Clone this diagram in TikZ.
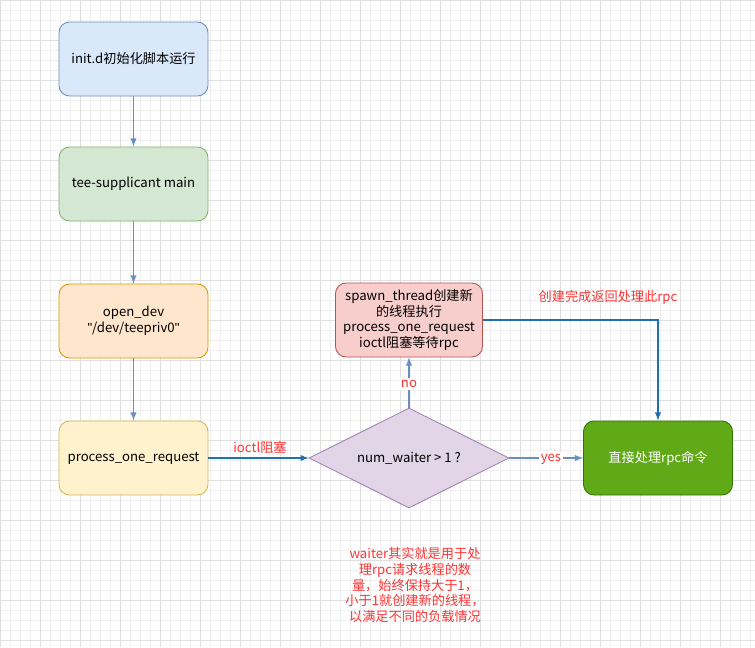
\documentclass[tikz,border=0pt]{standalone}
\usepackage{fontspec}
\setmainfont{Noto Sans CJK SC}
\newfontfamily\latinq{Liberation Sans}
\usetikzlibrary{shapes.geometric,positioning}
\definecolor{blueF}{HTML}{DAE8FC}\definecolor{blueD}{HTML}{6C8EBF}
\definecolor{greenF}{HTML}{D5E8D4}\definecolor{greenD}{HTML}{82B366}
\definecolor{orangeF}{HTML}{FFE6CC}\definecolor{orangeD}{HTML}{D79B00}
\definecolor{yellowF}{HTML}{FFF2CC}\definecolor{yellowD}{HTML}{D6B656}
\definecolor{purpleF}{HTML}{E1D5E7}\definecolor{purpleD}{HTML}{9673A6}
\definecolor{redF}{HTML}{F8CECC}\definecolor{redD}{HTML}{B85450}
\definecolor{limeF}{HTML}{60A917}\definecolor{limeD}{HTML}{2D7600}
\definecolor{linkB}{HTML}{1F6FB2}\definecolor{noteR}{HTML}{FF3333}
\tikzset{
  box/.style={draw, rounded corners=6pt, minimum width=2.98cm, minimum height=1.48cm,
    align=center, font=\fontsize{7.5}{9}\selectfont, line width=0.5pt},
  flow/.style={-latex, draw=blueD, line width=0.6pt},
  note/.style={text=noteR, font=\fontsize{7.5}{9}\selectfont, align=center}
}
\begin{document}
\begin{tikzpicture}[x=0.02cm,y=-0.02cm]
  \useasboundingbox (0,0) rectangle (755,647);
  \fill[white] (0,0) rectangle (755,647);
  % grid
  \draw[black!6, line width=0.3pt, step=0.2cm] (0,0) grid (755,647);
  \draw[black!12, line width=0.3pt, step=0.8cm] (0,0) grid (755,647);

  % Define nodes
  \node[box, fill=blueF, draw=blueD]     (init) at (133.5,59)  {init.d初始化脚本运行};
  \node[box, fill=greenF, draw=greenD]   (tee)  at (133.5,184) {tee-supplicant main};
  \node[box, fill=orangeF, draw=orangeD] (open) at (133.5,321) {open\_dev\\{\latinq"}/dev/teepriv0{\latinq"}};
  \node[box, fill=yellowF, draw=yellowD] (proc) at (133.5,458) {process\_one\_request};
  \node[diamond, aspect=2, draw=purpleD, fill=purpleF, minimum width=4cm, minimum height=2cm,
        inner sep=0pt, font=\fontsize{7.5}{9}\selectfont] (wait) at (409,458) {num\_waiter > 1 ?};
  \node[box, fill=redF, draw=redD, minimum width=2.94cm, inner sep=1pt] (spawn) at (409,320)
        {spawn\_thread创建新\\的线程执行\\process\_one\_request\\ioctl阻塞等待rpc};
  \node[box, fill=limeF, draw=limeD, text=white] (direct) at (658,458) {直接处理rpc命令};
  \coordinate (turn) at (658,320);

  % Connect the nodes
  \draw[flow] (init) -- (tee);
  \draw[flow] (tee) -- (open);
  \draw[flow] (open) -- (proc);
  \draw[flow, draw=linkB] (proc) -- (wait);
  \draw[flow] (wait) -- (spawn);
  \draw[flow] (wait) -- (direct);
  \draw[flow, draw=linkB] (spawn.east) -- (turn) -- (direct);

  % Labels
  \node[note] (lblIoctl) at (260,447) {ioctl阻塞};
  \node[note, fill=white, inner sep=1pt] (lblNo) at (409,384) {no};
  \node[note, fill=white, inner sep=1pt] (lblYes) at (551,459) {yes};
  \node[note] (lblBack) at (608,297) {创建完成返回处理此rpc};
  \node[note] (lblWaiter) at (415,585) {waiter其实就是用于处\\理rpc请求线程的数\\量，始终保持大于1，\\小于1就创建新的线程，\\以满足不同的负载情况};
\end{tikzpicture}
\end{document}
